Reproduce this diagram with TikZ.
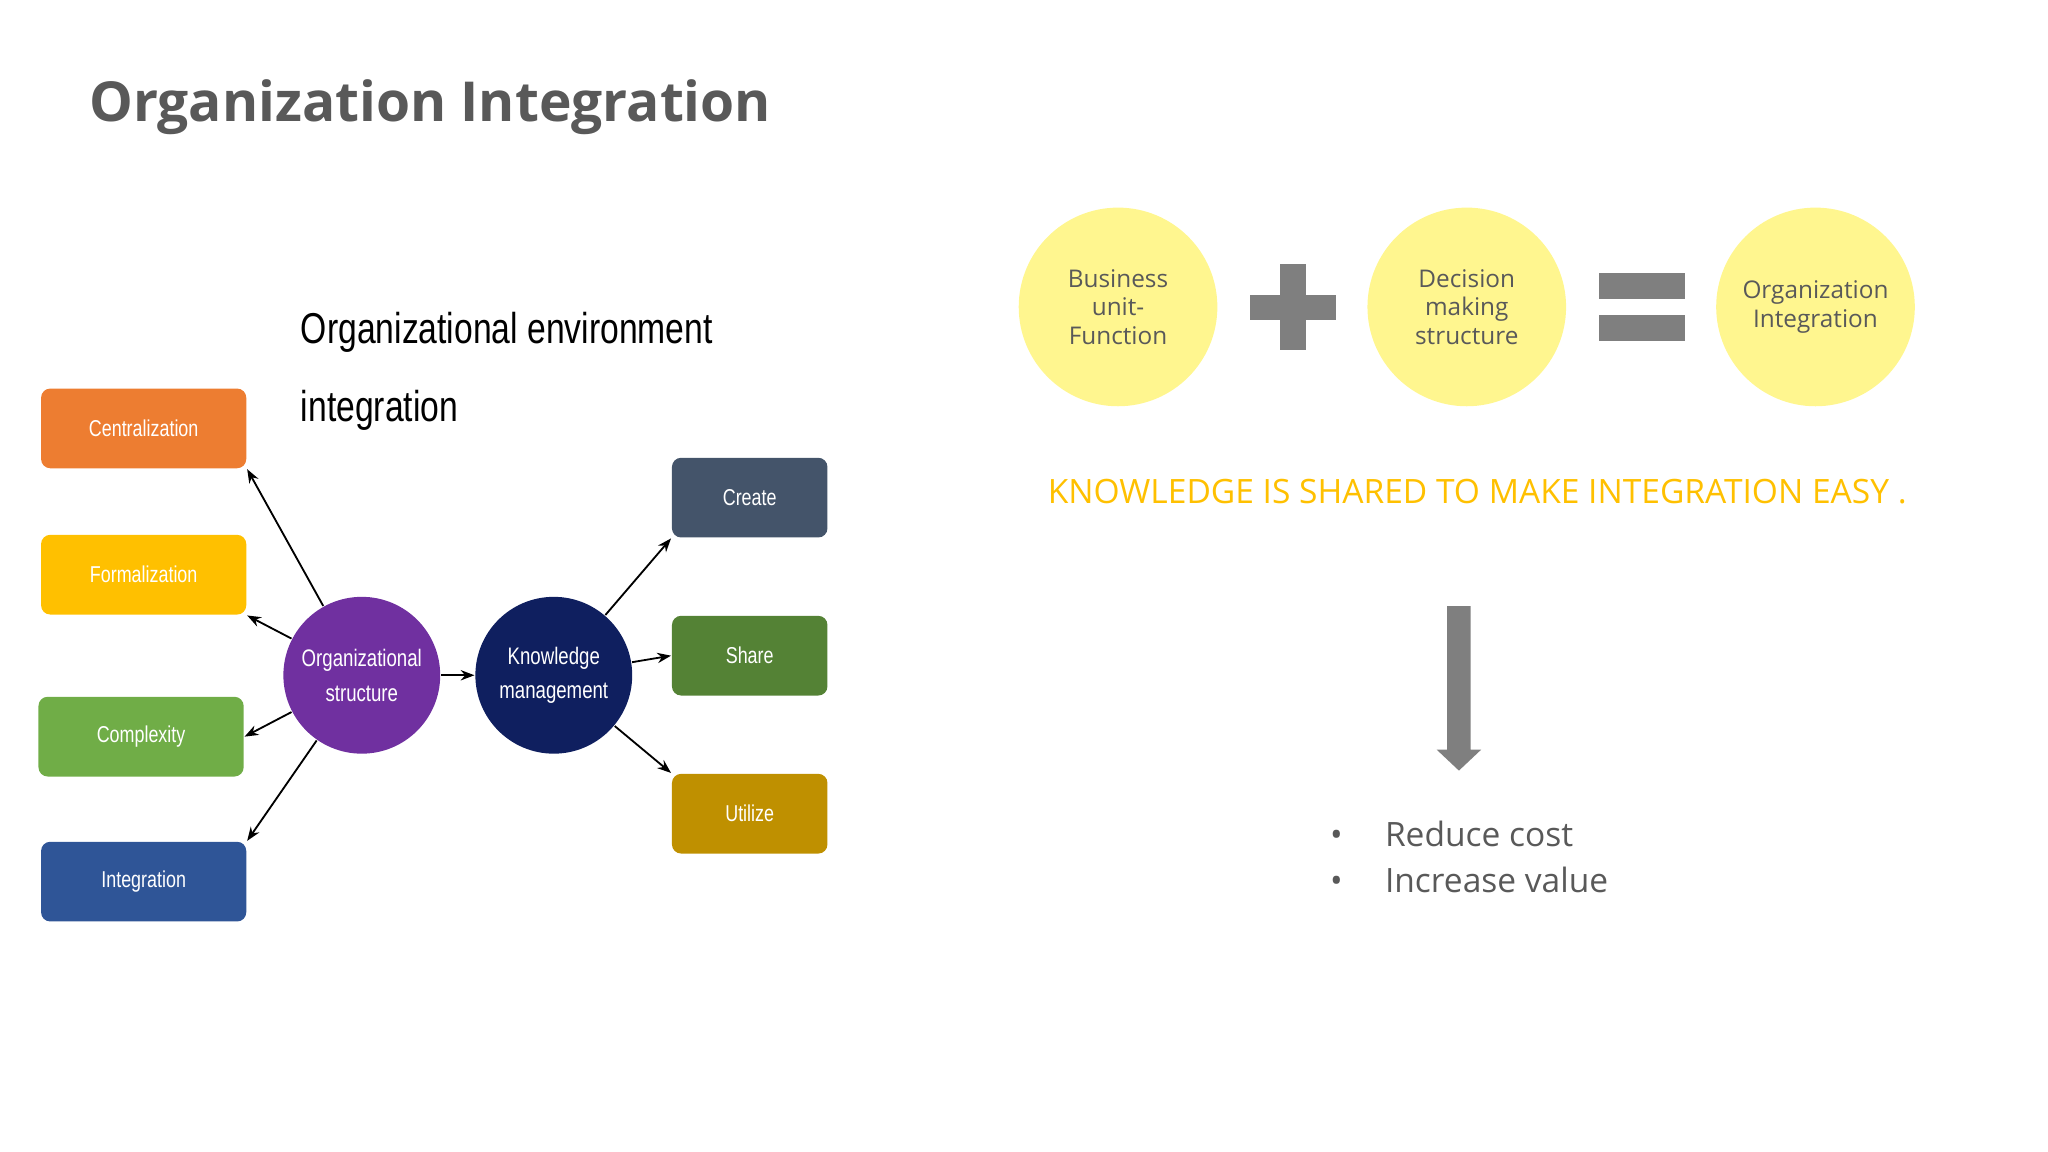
\documentclass[tikz,border=0pt]{standalone}
\usepackage{fontspec}
\setmainfont{Open Sans}
\newfontfamily\narrowfont[FakeStretch=0.78]{Liberation Sans}
\usetikzlibrary{positioning,arrows.meta}
\definecolor{titlegray}{HTML}{595959}
\definecolor{pluscol}{HTML}{7F7F7F}
\definecolor{bubble}{HTML}{FFF68F}
\definecolor{slogan}{HTML}{FFC000}
\tikzset{
  box/.style={rectangle, rounded corners=2pt, minimum width=1.57cm, minimum height=0.61cm, text=white, font=\narrowfont\fontsize{5}{6}\selectfont},
  hub/.style={circle, minimum size=1.2cm, inner sep=0pt, text=white, align=center, font=\narrowfont\fontsize{5.2}{7.5}\selectfont},
  bigdot/.style={circle, fill=bubble, minimum size=1.52cm, inner sep=0pt, align=center, text=titlegray, font=\fontsize{5.3}{6.2}\selectfont},
  link/.style={-{Stealth[length=3pt]}, thin, black}
}
\begin{document}
\begin{tikzpicture}[x=0.01cm,y=-0.01cm]
\useasboundingbox (0,0) rectangle (1568,882);
\node[anchor=west, text=titlegray, font=\bfseries\fontsize{12}{14}\selectfont] (title) at (56,82) {Organization Integration};
% left diagram
\node[anchor=west, align=left, font=\narrowfont\fontsize{9.4}{17}\selectfont] (envtitle) at (218,284) {Organizational environment\\integration};
\node[hub, fill={rgb,255:red,112;green,48;blue,160}] (orgstr) at (277,517) {Organizational\\structure};
\node[hub, fill={rgb,255:red,15;green,31;blue,95}] (knowman) at (424,517) {Knowledge\\management};
\node[box, fill={rgb,255:red,237;green,125;blue,49}] (central) at (110,328) {Centralization};
\node[box, fill={rgb,255:red,255;green,192;blue,0}] (formal) at (110,440) {Formalization};
\node[box, fill={rgb,255:red,112;green,173;blue,71}] (complex) at (108,564) {Complexity};
\node[box, fill={rgb,255:red,47;green,85;blue,151}] (integr) at (110,675) {Integration};
\node[box, minimum width=1.19cm, fill={rgb,255:red,68;green,84;blue,106}] (create) at (574,381) {Create};
\node[box, minimum width=1.19cm, fill={rgb,255:red,84;green,130;blue,53}] (share) at (574,502) {Share};
\node[box, minimum width=1.19cm, fill={rgb,255:red,191;green,144;blue,0}] (utilize) at (574,623) {Utilize};
\draw[link] (orgstr) -- (central.south east);
\draw[link] (orgstr) -- (formal.south east);
\draw[link] (orgstr) -- (complex.east);
\draw[link] (orgstr) -- (integr.north east);
\draw[link] (orgstr) -- (knowman);
\draw[link] (knowman) -- (create.south west);
\draw[link] (knowman) -- (share.west);
\draw[link] (knowman) -- (utilize.north west);
% right part
\node[bigdot] (business) at (856,235) {Business\\unit-\\Function};
\node[bigdot] (decision) at (1123,235) {Decision\\making\\structure};
\node[bigdot] (orgint) at (1390,235) {Organization\\Integration};
\fill[pluscol] (957,226) rectangle (1023,245);
\fill[pluscol] (980,202) rectangle (1000,268);
\fill[pluscol] (1224,209) rectangle (1290,229);
\fill[pluscol] (1224,241) rectangle (1290,261);
\node[text=slogan, font=\fontsize{7.3}{9}\selectfont] (motto) at (1131,376) {KNOWLEDGE IS SHARED TO MAKE INTEGRATION EASY .};
\fill[pluscol] (1108,464) rectangle (1126,574) -- (1100,574) -- (1117,590) -- (1134,574) -- cycle;
\node[anchor=north west, align=left, text=titlegray, font=\fontsize{7.3}{10}\selectfont] (benefits) at (1006,616) {\textbullet\quad\ Reduce cost\\\textbullet\quad\ Increase value};
\end{tikzpicture}
\end{document}
